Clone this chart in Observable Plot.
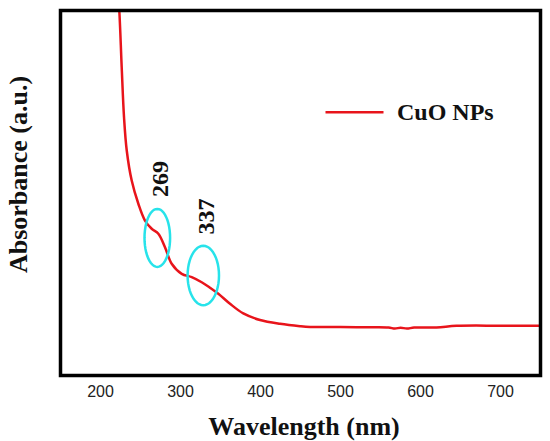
<!DOCTYPE html>
<html>
<head>
<meta charset="utf-8">
<script src="https://cdn.jsdelivr.net/npm/d3@7"></script>
<script src="https://cdn.jsdelivr.net/npm/@observablehq/plot@0.6"></script>
<style>
  body { margin: 0; background: #fff; }
</style>
</head>
<body>
<script>
// UV-vis spectrum of CuO NPs (absorbance in arbitrary units)
const wavelength = [221, 223.5, 226.5, 229.4, 232.8, 239, 247.3, 255.6, 264, 272.3,
  280.6, 289, 301.5, 314, 326.5, 336.9, 347.3, 361.9, 378.5, 399.4,
  424.4, 449.4, 462, 500, 530, 560, 568, 575, 583, 592, 620, 645, 700, 750];
const absorbance = [2.15, 2.0, 1.689, 1.415, 1.233, 1.068, 0.941, 0.849, 0.804, 0.777,
  0.703, 0.612, 0.557, 0.539, 0.511, 0.481, 0.448, 0.393, 0.34, 0.304,
  0.283, 0.27, 0.266, 0.266, 0.264, 0.263, 0.257, 0.262, 0.257, 0.263, 0.263, 0.272, 0.273, 0.273];

// shoulders marked with rings
const peakLabels = ["269", "337"];
const peakWavelength = [271, 328.5];
const peakAbsorbance = [0.754, 0.548];

const xTicks = [200, 300, 400, 500, 600, 700];
const seriesName = "CuO NPs";

const spectrum = wavelength.map((w, i) => ({ w, a: absorbance[i] }));
const peaks = peakLabels.map((label, i) => ({ label, w: peakWavelength[i], a: peakAbsorbance[i] }));

const red = "#e8141b";
const cyan = "#27e3ea";
const serif = "Liberation Serif, Times New Roman, serif";

// ellipse drawn as a custom symbol
const ellipse = (rx, ry) => ({
  draw(ctx) {
    const n = 48;
    for (let i = 0; i <= n; i++) {
      const t = (i / n) * 2 * Math.PI;
      const px = rx * Math.cos(t), py = ry * Math.sin(t);
      if (i === 0) ctx.moveTo(px, py); else ctx.lineTo(px, py);
    }
    ctx.closePath();
  }
});
const ringSizes = [[12.8, 29], [15.7, 29.7]];

// legend swatch: a short horizontal line
const swatch = {
  draw(ctx) {
    ctx.moveTo(-29, 0);
    ctx.lineTo(29, 0);
  }
};

document.body.append(
  Plot.plot({
    width: 550,
    height: 441,
    marginLeft: 60,
    marginRight: 10,
    marginTop: 10,
    marginBottom: 66,
    style: { background: "white" },
    x: { domain: [150, 750] },
    y: { domain: [0, 2], axis: null },
    marks: [
      Plot.axisX({
        ticks: xTicks,
        tickSize: 0,
        tickPadding: 10,
        fontSize: 16,
        fontFamily: "Liberation Sans, Arial, sans-serif",
        fill: "#222",
        label: null
      }),
      Plot.line(spectrum, {
        x: "w",
        y: "a",
        stroke: red,
        strokeWidth: 2.5,
        curve: "catmull-rom",
        clip: true
      }),
      ...peaks.map((p, i) =>
        Plot.dot([p], {
          x: "w",
          y: "a",
          symbol: ellipse(...ringSizes[i]),
          stroke: cyan,
          strokeWidth: 2.5,
          fill: "none"
        })
      ),
      Plot.text(peaks, {
        x: "w",
        y: "a",
        text: "label",
        rotate: -90,
        dx: 3,
        dy: -59,
        fontSize: 24,
        fontWeight: "bold",
        fontFamily: serif,
        fill: "#111"
      }),
      // legend
      Plot.dot([seriesName], {
        frameAnchor: "top-right",
        symbol: swatch,
        stroke: red,
        strokeWidth: 2.5,
        dx: -186,
        dy: 101.7
      }),
      Plot.text([seriesName], {
        frameAnchor: "top-right",
        text: (d) => d,
        textAnchor: "start",
        lineAnchor: "middle",
        dx: -143.5,
        dy: 101.5,
        fontSize: 24,
        fontWeight: "bold",
        fontFamily: serif,
        fill: "#111"
      }),
      // axis titles
      Plot.text(["Wavelength (nm)"], {
        frameAnchor: "bottom",
        text: (d) => d,
        textAnchor: "middle",
        lineAnchor: "middle",
        dx: 3.5,
        dy: 51,
        fontSize: 26,
        fontWeight: "bold",
        fontFamily: serif,
        fill: "#111"
      }),
      Plot.text(["Absorbance (a.u.)"], {
        frameAnchor: "left",
        text: (d) => d,
        textAnchor: "middle",
        lineAnchor: "middle",
        rotate: -90,
        dx: -42,
        dy: -18.5,
        fontSize: 26,
        fontWeight: "bold",
        fontFamily: serif,
        fill: "#111"
      }),
      Plot.frame({ stroke: "black", strokeWidth: 3.5 })
    ]
  })
);
</script>
</body>
</html>
